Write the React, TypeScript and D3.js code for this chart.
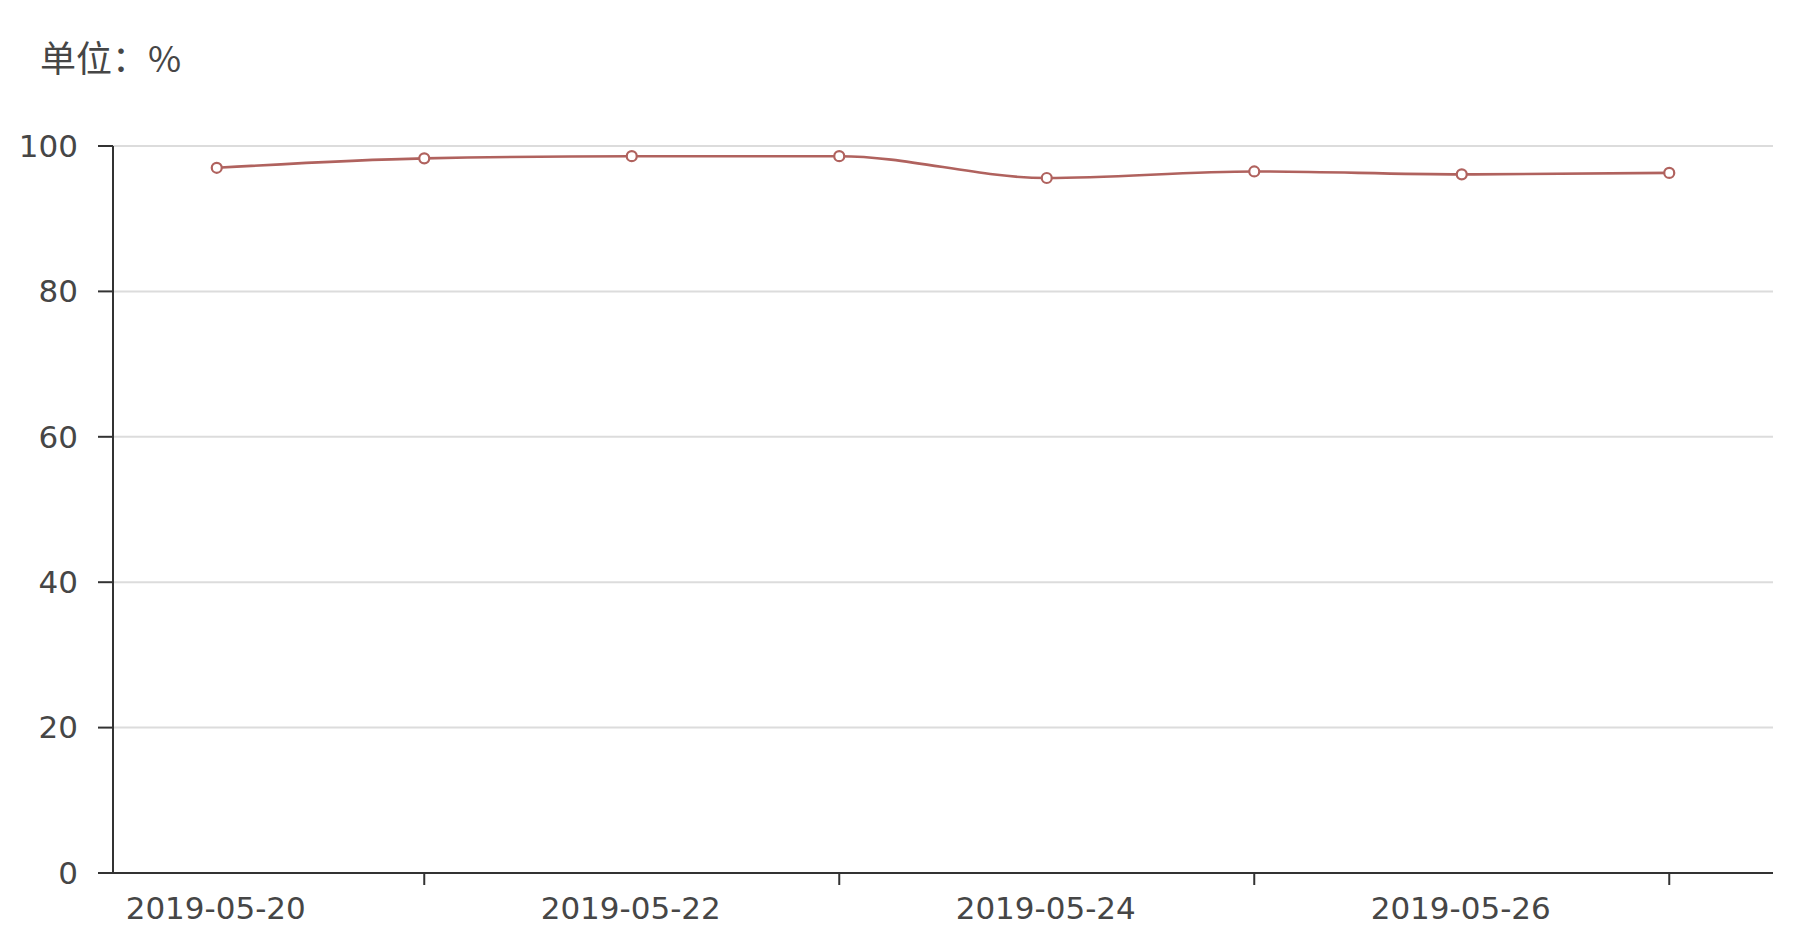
import React from "react";
import * as d3 from "d3";

const categories = [
  "2019-05-20",
  "2019-05-21",
  "2019-05-22",
  "2019-05-23",
  "2019-05-24",
  "2019-05-25",
  "2019-05-26",
  "2019-05-27",
];
const values = [97.0, 98.3, 98.6, 98.6, 95.6, 96.5, 96.1, 96.3];
const yTicks = [0, 20, 40, 60, 80, 100];
const unitLabel = "单位：%";

const W = 1798;
const H = 948;
const left = 113;
const right = 1773;
const top = 146;
const bottom = 873;
const lineColor = "#b0625e";
const textColor = "#464646";
const axisColor = "#333";
const font = "'DejaVu Sans', 'Noto Sans CJK SC', sans-serif";

export default function App() {
  const x = d3.scalePoint<string>().domain(categories).range([left, right]).padding(0.5);
  const y = d3.scaleLinear().domain([0, 100]).range([bottom, top]);
  const line = d3
    .line<number>()
    .x((_, i) => x(categories[i]) as number)
    .y((d) => y(d))
    .curve(d3.curveMonotoneX);

  return (
    <svg
      width={W}
      height={H}
      style={{ position: "absolute", left: 0, top: 0, background: "#fff" }}
      fontFamily={font}
    >
      <text x={40} y={72} fontSize={36} fill={textColor} fontFamily="'Noto Sans CJK SC', sans-serif">
        {unitLabel}
      </text>
      {yTicks.map((t) => (
        <g key={t}>
          {t > 0 && (
            <line x1={left} x2={right} y1={y(t)} y2={y(t)} stroke="#dcdcdc" strokeWidth={2} />
          )}
          <line x1={left - 15} x2={left} y1={y(t)} y2={y(t)} stroke={axisColor} strokeWidth={2} />
          <text
            x={left - 35}
            y={y(t)}
            dy="0.35em"
            textAnchor="end"
            fontSize={31}
            fill={textColor}
          >
            {t}
          </text>
        </g>
      ))}
      <line x1={left} x2={left} y1={top} y2={bottom} stroke={axisColor} strokeWidth={2} />
      <line x1={left - 15} x2={right} y1={bottom} y2={bottom} stroke={axisColor} strokeWidth={2} />
      {categories.map((c, i) =>
        i % 2 === 1 ? (
          <line
            key={c}
            x1={x(c) as number}
            x2={x(c) as number}
            y1={bottom}
            y2={bottom + 12}
            stroke={axisColor}
            strokeWidth={2}
          />
        ) : (
          <text
            key={c}
            x={(x(c) as number) - 1}
            y={919}
            textAnchor="middle"
            fontSize={31}
            fill={textColor}
          >
            {c}
          </text>
        )
      )}
      <path d={line(values) || ""} fill="none" stroke={lineColor} strokeWidth={2.6} />
      {values.map((v, i) => (
        <circle
          key={i}
          cx={x(categories[i]) as number}
          cy={y(v)}
          r={5}
          fill="#fff"
          stroke={lineColor}
          strokeWidth={2.2}
        />
      ))}
    </svg>
  );
}
